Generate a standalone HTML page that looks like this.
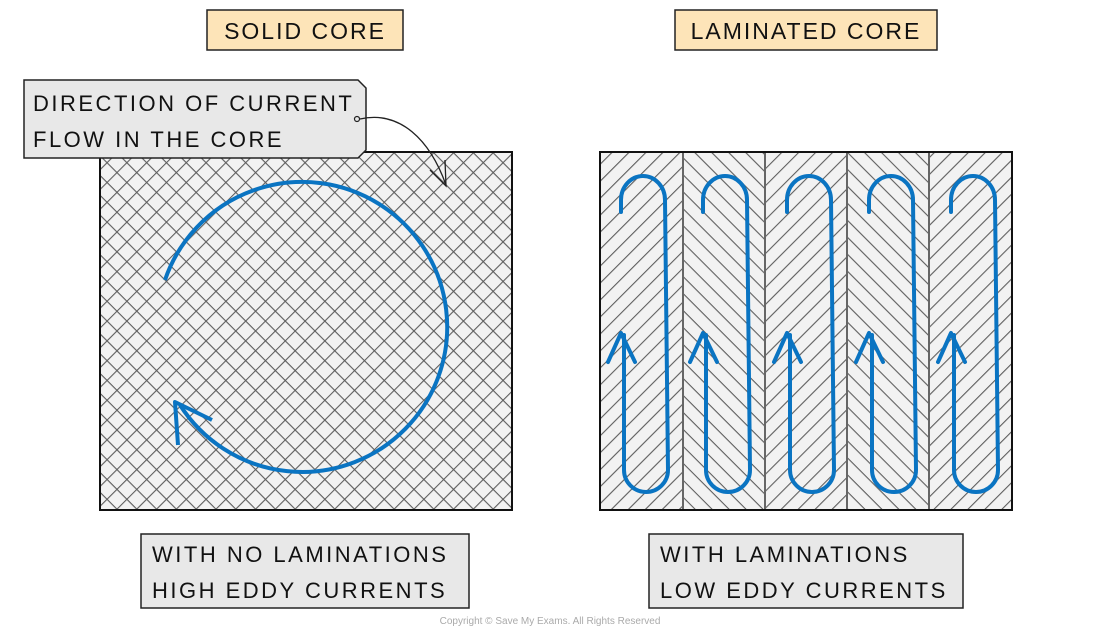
<!DOCTYPE html>
<html><head><style>
html,body{margin:0;padding:0;background:#fff;}
svg{display:block;font-family:"Liberation Sans",sans-serif;}
</style></head><body>
<svg width="1100" height="632" viewBox="0 0 1100 632" xmlns="http://www.w3.org/2000/svg">
<defs>
<pattern id="cross" patternUnits="userSpaceOnUse" width="14" height="14" patternTransform="rotate(45 100 152)">
<rect width="14" height="14" fill="#f2f2f2"/>
<path d="M0 0H14M0 0V14" stroke="#5e5e5e" stroke-width="2.2"/>
</pattern>
<pattern id="hr" patternUnits="userSpaceOnUse" width="12" height="12" patternTransform="rotate(-45 0 0)">
<rect width="12" height="12" fill="#f2f2f2"/>
<path d="M0 0H12" stroke="#5e5e5e" stroke-width="2.2"/>
</pattern>
<pattern id="hl" patternUnits="userSpaceOnUse" width="12" height="12" patternTransform="rotate(45 0 0)">
<rect width="12" height="12" fill="#f2f2f2"/>
<path d="M0 0H12" stroke="#5e5e5e" stroke-width="2.2"/>
</pattern>
</defs>

<rect x="207" y="10" width="196" height="40" fill="#fde4b8" stroke="#222" stroke-width="1.5"/>
<text x="305" y="39" font-size="23" text-anchor="middle" letter-spacing="2" fill="#111">SOLID CORE</text>
<rect x="675" y="10" width="262" height="40" fill="#fde4b8" stroke="#222" stroke-width="1.5"/>
<text x="806" y="39" font-size="23" text-anchor="middle" letter-spacing="2" fill="#111">LAMINATED CORE</text>

<rect x="100" y="152" width="412" height="358" fill="url(#cross)" stroke="#111" stroke-width="2"/>
<path d="M165 280 A145 145 0 1 1 180 405" fill="none" stroke="#0a74c2" stroke-width="4"/>
<path d="M178 445 L175 402 L212 420" fill="none" stroke="#0a74c2" stroke-width="4" stroke-linejoin="round"/>

<path d="M24 80 H358 L366 88 V150 L358 158 H24 Z" fill="#e8e8e8" stroke="#222" stroke-width="1.5"/>
<text x="33" y="111" font-size="22" letter-spacing="2.5" fill="#111">DIRECTION OF CURRENT</text>
<text x="33" y="147" font-size="22" letter-spacing="2.5" fill="#111">FLOW IN THE CORE</text>
<circle cx="357" cy="119" r="2.5" fill="none" stroke="#222" stroke-width="1.2"/>
<path d="M360 119 C400 110 430 140 446 185" fill="none" stroke="#222" stroke-width="1.3"/>
<path d="M430 170 L446 186 L445 160" fill="none" stroke="#222" stroke-width="1.3"/>

<rect x="600" y="152" width="83" height="358" fill="url(#hr)"/>
<rect x="683" y="152" width="82" height="358" fill="url(#hl)"/>
<rect x="765" y="152" width="82" height="358" fill="url(#hr)"/>
<rect x="847" y="152" width="82" height="358" fill="url(#hl)"/>
<rect x="929" y="152" width="83" height="358" fill="url(#hr)"/>
<g stroke="#666" stroke-width="2">
<line x1="683" y1="152" x2="683" y2="510"/><line x1="765" y1="152" x2="765" y2="510"/>
<line x1="847" y1="152" x2="847" y2="510"/><line x1="929" y1="152" x2="929" y2="510"/>
</g>
<rect x="600" y="152" width="412" height="358" fill="none" stroke="#111" stroke-width="2"/>

<g fill="none" stroke="#0a74c2" stroke-width="4" stroke-linejoin="round" stroke-linecap="round">
<g id="loop">
<path d="M621 212 V200 A22 24 0 0 1 665 200 L668 470 A22 22 0 0 1 624 470 V335"/>
<path d="M608 362 L621 333 L635 362"/>
</g>
<use href="#loop" x="82"/>
<use href="#loop" x="166"/>
<use href="#loop" x="248"/>
<use href="#loop" x="330"/>
</g>

<rect x="141" y="534" width="328" height="74" fill="#e8e8e8" stroke="#222" stroke-width="1.5"/>
<text x="152" y="562" font-size="22" letter-spacing="2.5" fill="#111">WITH NO LAMINATIONS</text>
<text x="152" y="598" font-size="22" letter-spacing="2.5" fill="#111">HIGH EDDY CURRENTS</text>
<rect x="649" y="534" width="314" height="74" fill="#e8e8e8" stroke="#222" stroke-width="1.5"/>
<text x="660" y="562" font-size="22" letter-spacing="2.5" fill="#111">WITH LAMINATIONS</text>
<text x="660" y="598" font-size="22" letter-spacing="2.5" fill="#111">LOW EDDY CURRENTS</text>

<text x="550" y="624" font-size="10" text-anchor="middle" fill="#aaa">Copyright © Save My Exams. All Rights Reserved</text>
</svg>
</body></html>
